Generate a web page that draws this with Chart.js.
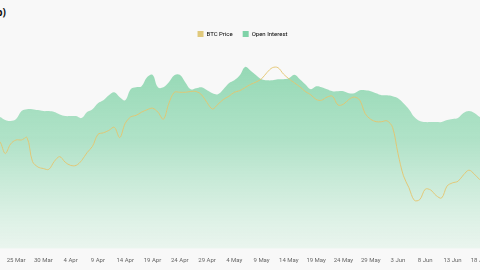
<!DOCTYPE html>
<html>
<head>
<meta charset="utf-8">
<script src="https://cdn.jsdelivr.net/npm/chart.js@4"></script>
<style>
  html, body { margin: 0; padding: 0; width: 480px; height: 270px; overflow: hidden; background: #f8f8f8; }
  #title { position: absolute; right: 474px; top: 5px; white-space: nowrap; font: bold 10px "Noto Sans", sans-serif; color: #111; }
  #myChart { position: absolute; left: -41px; top: 0; }
</style>
</head>
<body>
<div id="title">Bitcoin Open Interest (Perp)</div>
<canvas id="myChart" width="567" height="273"></canvas>
<script>
const days = [
    '16 Mar', '17 Mar', '18 Mar', '19 Mar', '20 Mar', '21 Mar', '22 Mar', '23 Mar', '24 Mar', '25 Mar',
    '26 Mar', '27 Mar', '28 Mar', '29 Mar', '30 Mar', '31 Mar', '1 Apr', '2 Apr', '3 Apr', '4 Apr',
    '5 Apr', '6 Apr', '7 Apr', '8 Apr', '9 Apr', '10 Apr', '11 Apr', '12 Apr', '13 Apr', '14 Apr',
    '15 Apr', '16 Apr', '17 Apr', '18 Apr', '19 Apr', '20 Apr', '21 Apr', '22 Apr', '23 Apr', '24 Apr',
    '25 Apr', '26 Apr', '27 Apr', '28 Apr', '29 Apr', '30 Apr', '1 May', '2 May', '3 May', '4 May',
    '5 May', '6 May', '7 May', '8 May', '9 May', '10 May', '11 May', '12 May', '13 May', '14 May',
    '15 May', '16 May', '17 May', '18 May', '19 May', '20 May', '21 May', '22 May', '23 May', '24 May',
    '25 May', '26 May', '27 May', '28 May', '29 May', '30 May', '31 May', '1 Jun', '2 Jun', '3 Jun',
    '4 Jun', '5 Jun', '6 Jun', '7 Jun', '8 Jun', '9 Jun', '10 Jun', '11 Jun', '12 Jun', '13 Jun',
    '14 Jun', '15 Jun', '16 Jun', '17 Jun', '18 Jun', '19 Jun', '20 Jun', '21 Jun', '22 Jun', '23 Jun',
    '24 Jun', '25 Jun'
];

// BTC price, USD
const btcPrice = [
    62600, 62900, 63100, 63200, 63400, 63600, 63500, 62000, 63200, 63700,
    63700, 64000, 61000, 60300, 60100, 60000, 61000, 61600, 60900, 60500,
    60500, 61100, 62100, 62900, 64400, 64600, 64900, 65300, 64000, 65800,
    66600, 66800, 67200, 67500, 67700, 67200, 66300, 68300, 69700, 69700,
    69700, 69800, 69800, 69400, 68400, 67600, 68200, 68800, 69200, 69700,
    69900, 70300, 70700, 71000, 71400, 72200, 72800, 72800, 72000, 71400,
    70900, 70400, 69800, 69400, 68800, 68700, 69100, 69200, 68100, 68200,
    68800, 69100, 68700, 67000, 66300, 66000, 66000, 66100, 65300, 62000,
    59200, 57700, 56100, 56200, 57500, 57400, 56700, 56400, 57900, 58300,
    58500, 59300, 59900, 59400, 58700, 58200, 57900, 57900, 58000, 58000,
    58100, 58100
];

// open interest, billion USD
const openInterest = [
    26.9, 26.9, 26.7, 26.7, 26.7, 26.5, 26.5, 25.9, 25.7, 26.1,
    27.7, 28.1, 28.1, 27.9, 27.7, 27.7, 27.5, 27.0, 26.7, 26.7,
    26.7, 26.3, 27.5, 28.1, 29.3, 29.9, 30.9, 31.5, 30.5, 29.9,
    32.1, 32.5, 32.7, 34.5, 35.0, 32.5, 32.5, 33.5, 34.9, 35.0,
    33.5, 32.1, 32.3, 32.5, 31.9, 31.3, 31.1, 32.1, 33.3, 33.9,
    34.9, 36.6, 35.8, 34.9, 34.1, 33.9, 33.9, 34.1, 34.1, 34.3,
    35.0, 34.1, 33.1, 32.1, 32.7, 32.5, 32.1, 31.7, 31.7, 31.7,
    31.3, 31.3, 31.9, 31.9, 31.7, 31.3, 30.9, 30.9, 30.7, 30.3,
    29.3, 28.1, 26.5, 25.7, 25.5, 25.5, 25.5, 25.5, 25.9, 26.1,
    26.3, 27.3, 27.7, 27.3, 26.5, 26.3, 26.1, 26.1, 26.1, 26.1,
    26.2, 26.2
];

const canvasContext = document.getElementById('myChart').getContext('2d');

function greenFill(ctx) {
    const area = ctx.chart.chartArea;
    if (!area) return 'rgba(127, 211, 168, 0.8)';
    const g = ctx.chart.ctx.createLinearGradient(0, area.top, 0, area.bottom);
    g.addColorStop(0, 'rgba(130, 210, 168, 0.9)');
    g.addColorStop(0.45, 'rgba(150, 218, 182, 0.75)');
    g.addColorStop(1, 'rgba(225, 243, 232, 0.6)');
    return g;
}

const myChart = new Chart(canvasContext, {
    type: 'line',
    data: {
        labels: days,
        datasets: [
            {
                label: 'BTC Price',
                data: btcPrice,
                yAxisID: 'price',
                borderColor: 'rgba(228, 196, 110, 0.9)',
                backgroundColor: '#e0c97c',
                borderWidth: 1,
                pointRadius: 0,
                tension: 0.35,
                fill: false,
            },
            {
                label: 'Open Interest',
                data: openInterest,
                yAxisID: 'oi',
                borderColor: 'rgba(0,0,0,0)',
                backgroundColor: greenFill,
                borderWidth: 0,
                pointRadius: 0,
                tension: 0.4,
                fill: 'start',
            }
        ],
    },
    options: {
        responsive: false,
        animation: false,
        layout: {
            padding: { left: 0, right: 0, top: 21, bottom: 1 }
        },
        plugins: {
            legend: {
                labels: {
                    boxWidth: 6,
                    boxHeight: 6,
                    color: '#555',
                    font: { size: 6, family: 'Roboto' },
                    generateLabels: (chart) => chart.data.datasets.map((ds, i) => ({
                        text: ds.label,
                        fillStyle: i === 0 ? '#e0c97c' : '#7fd3a8',
                        strokeStyle: 'rgba(0,0,0,0)',
                        lineWidth: 0,
                        datasetIndex: i,
                    })),
                }
            },
            tooltip: { enabled: false }
        },
        scales: {
            x: {
                grid: { display: false, drawTicks: false },
                border: { display: false },
                ticks: {
                    autoSkip: false,
                    maxRotation: 0,
                    padding: 8,
                    color: '#666',
                    font: { size: 6, family: 'Roboto' },
                    callback: function (value, index) {
                        return index % 5 === 4 ? days[index] : '';
                    }
                }
            },
            oi: {
                display: false,
                position: 'left',
                min: 0,
                max: 40.6,
            },
            price: {
                display: false,
                position: 'right',
                min: 50000,
                max: 75400,
            }
        }
    }
});
</script>
</body>
</html>
